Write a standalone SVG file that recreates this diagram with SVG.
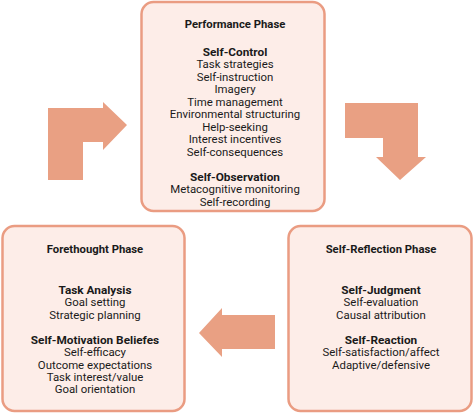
<svg xmlns="http://www.w3.org/2000/svg" width="474" height="413" viewBox="0 0 474 413">
<style>
.box{fill:#FDEDE8;stroke:#EA9C82;stroke-width:2.5}
.arrow{fill:#E9A083}
text{font-family:Roboto,"Liberation Sans",sans-serif;font-size:11.4px;fill:#1a1a1a;text-anchor:middle}
.h{font-weight:bold;font-size:11.3px}
.b{font-weight:bold;font-size:11.8px}
</style>
<rect width="474" height="413" fill="#ffffff"/>
<g id="connectors">
<polygon class="arrow" points="48,108 103,108 103,102 127,125 103,150 103,142 83,142 83,180 48,180"/>
<polygon class="arrow" points="345,103 418,103 418,157 426,157 400,180 376,157 383,157 383,138 345,138"/>
<polygon class="arrow" points="199,333 222,308 222,315 275,315 275,349 222,349 222,357"/>
</g>
<g id="performance">
<rect class="box" x="141.5" y="2" width="183" height="209" rx="12"/>
<text class="h" x="235" y="28">Performance Phase</text>
<text class="b" x="235" y="56">Self-Control</text>
<text x="235" y="68">Task strategies</text>
<text x="235" y="80.5">Self-instruction</text>
<text x="235" y="93">Imagery</text>
<text x="235" y="105.5">Time management</text>
<text x="235" y="118">Environmental structuring</text>
<text x="235" y="130.5">Help-seeking</text>
<text x="235" y="143">Interest incentives</text>
<text x="235" y="155.5">Self-consequences</text>
<text class="b" x="235" y="180.5">Self-Observation</text>
<text x="235" y="193">Metacognitive monitoring</text>
<text x="235" y="205.5">Self-recording</text>
</g>
<g id="forethought">
<rect class="box" x="2.5" y="226" width="182" height="185" rx="12"/>
<text class="h" x="95" y="253">Forethought Phase</text>
<text class="b" x="95" y="294">Task Analysis</text>
<text x="95" y="306">Goal setting</text>
<text x="95" y="318.5">Strategic planning</text>
<text class="b" x="95" y="343.5">Self-Motivation Beliefes</text>
<text x="95" y="356">Self-efficacy</text>
<text x="95" y="368.5">Outcome expectations</text>
<text x="95" y="380.5">Task interest/value</text>
<text x="95" y="392.5">Goal orientation</text>
</g>
<g id="selfreflection">
<rect class="box" x="288.5" y="226" width="183" height="185" rx="12"/>
<text class="h" x="381" y="253">Self-Reflection Phase</text>
<text class="b" x="381" y="294">Self-Judgment</text>
<text x="381" y="306">Self-evaluation</text>
<text x="381" y="318.5">Causal attribution</text>
<text class="b" x="381" y="343.5">Self-Reaction</text>
<text x="381" y="356">Self-satisfaction/affect</text>
<text x="381" y="368.5">Adaptive/defensive</text>
</g>
</svg>
